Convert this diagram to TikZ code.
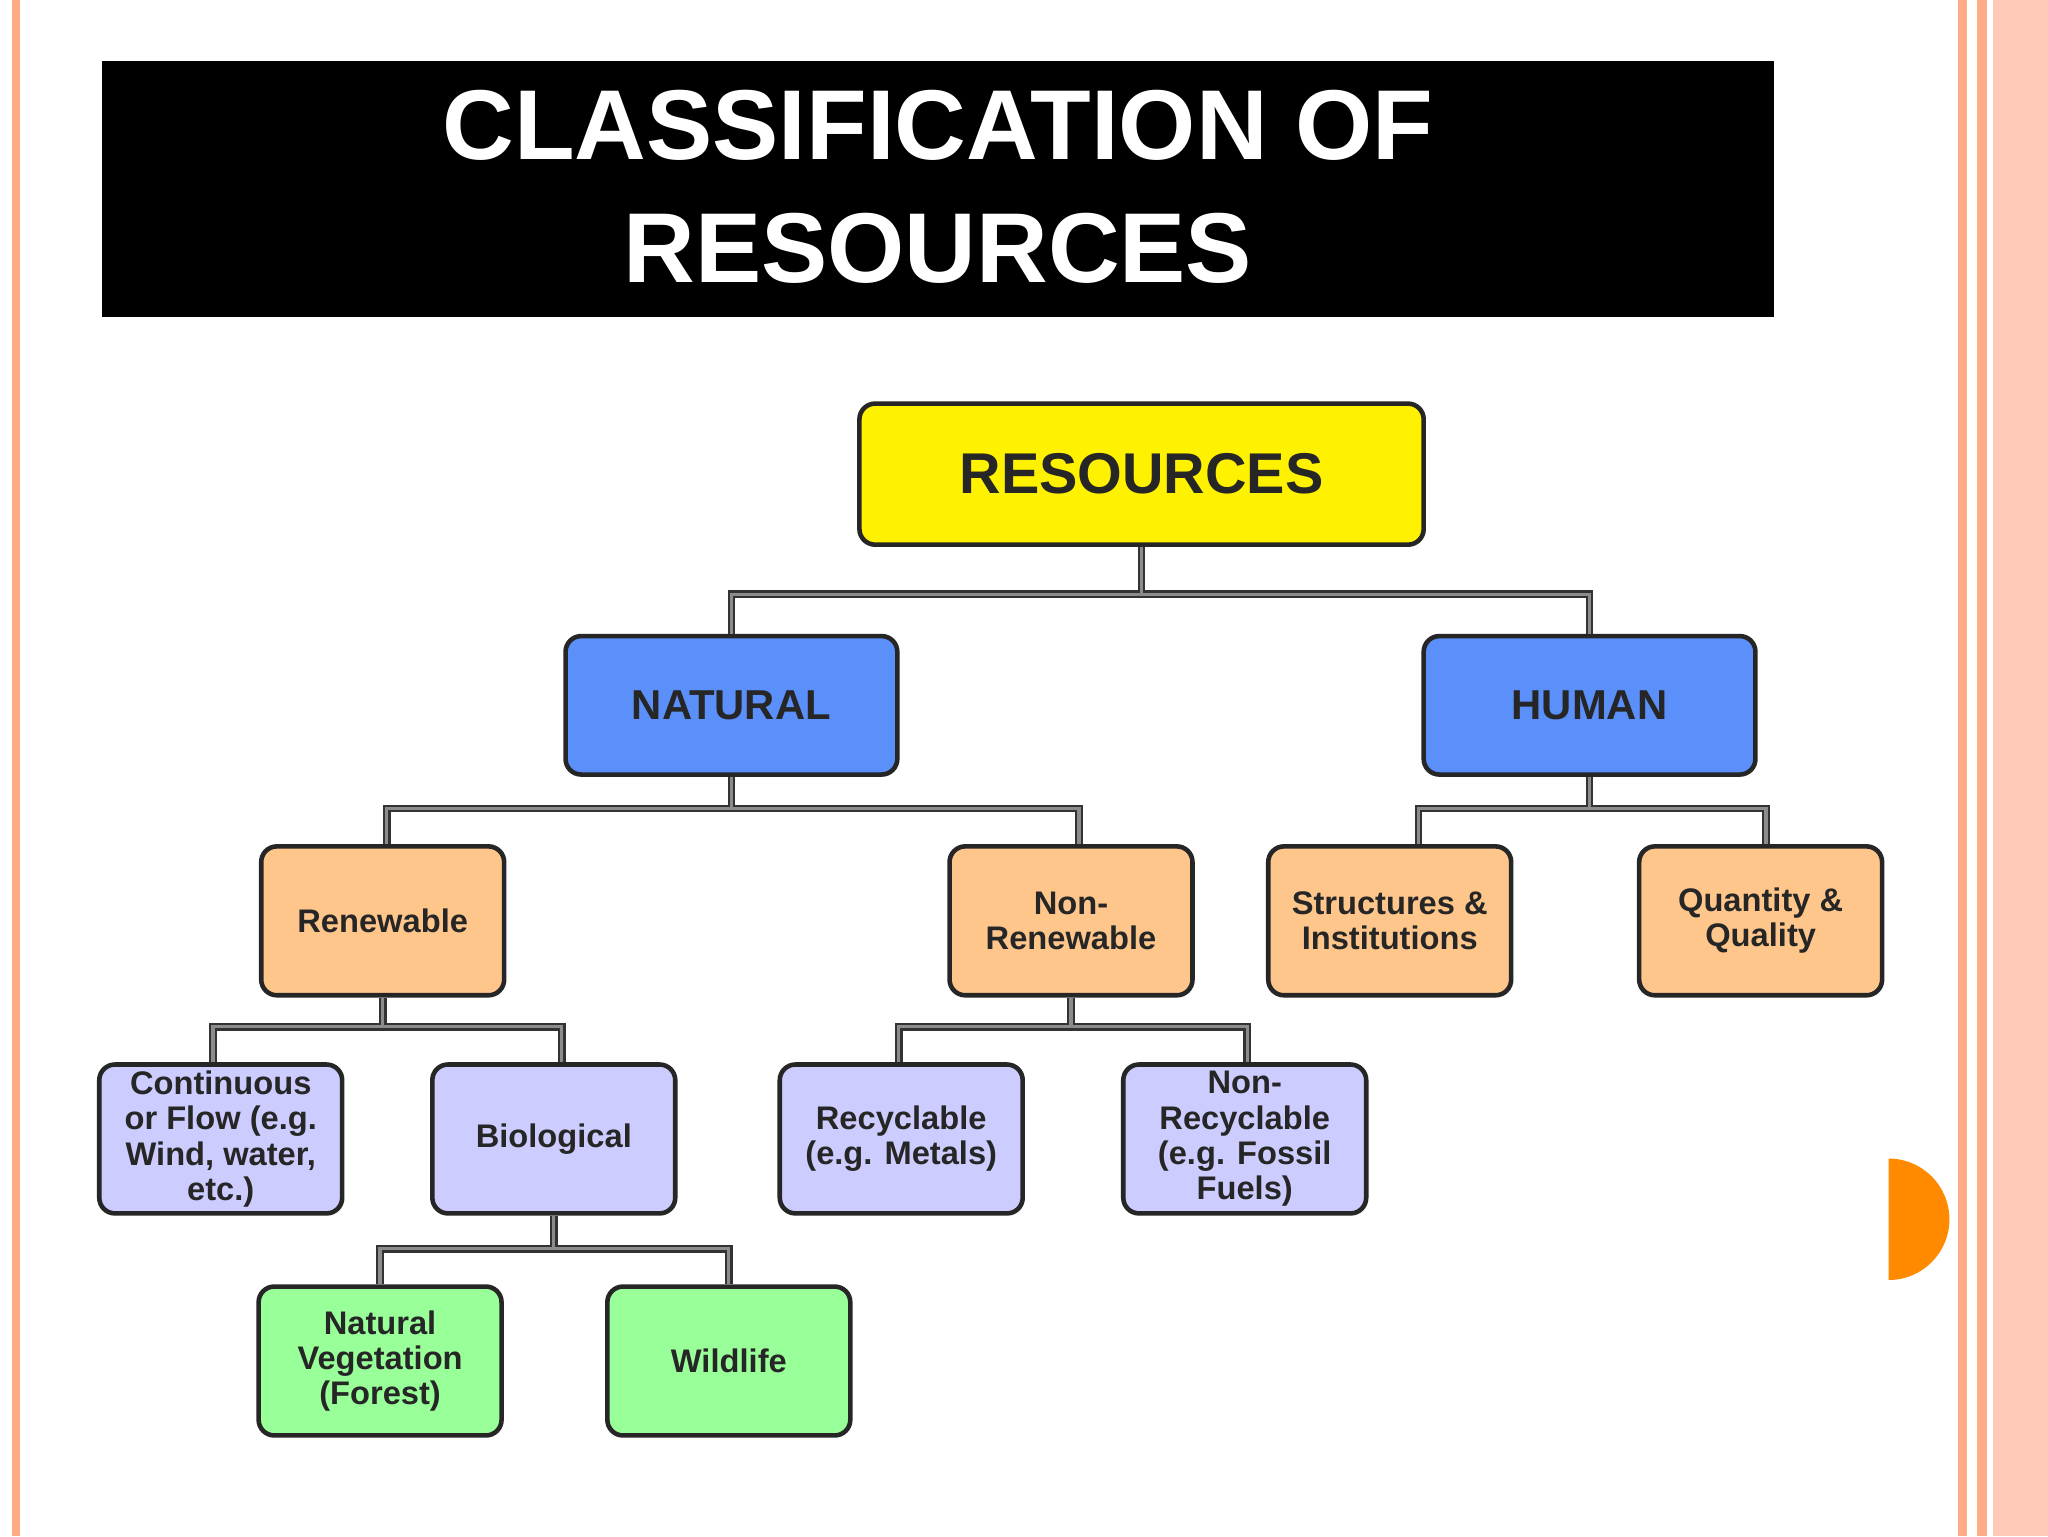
\documentclass[tikz,border=0pt]{standalone}
\usepackage{fontspec}
\setmainfont{Liberation Sans}
\begin{document}
\begin{tikzpicture}[x=1pt,y=-1pt,
 box/.style={draw=black!85,line width=3.5pt,rounded corners=12pt,minimum width=186pt,minimum height=114pt,align=center,font=\fontsize{25}{27}\selectfont\bfseries,text=black!85,inner sep=2pt},
 conn/.style={draw=black!80,line width=6pt},
 connin/.style={draw=black!45,line width=2.5pt}]
\useasboundingbox (0,0) rectangle (1568,1176);
\fill[white] (0,0) rectangle (1568,1176);
\fill[orange!30!pink] (9,0) rectangle (15,1176);
\fill[orange!30!pink] (1499,0) rectangle (1506,1176);
\fill[orange!30!pink] (1514,0) rectangle (1521,1176);
\fill[orange!20!pink!70] (1526,0) rectangle (1568,1176);
\fill[orange!80!yellow!90!red] (1446,980) arc[start angle=90,end angle=-90,radius=46.5] -- cycle;
\node[fill=black,minimum width=1280pt,minimum height=196pt,inner sep=0pt] (title) at (718,145) {};
\node[text=white,font=\fontsize{76}{94}\selectfont\bfseries,align=center] (tt) at (718,143) {CLASSIFICATION OF\\RESOURCES};
% connectors first
\coordinate (b1) at (0,455);
\coordinate (b2) at (0,619);
\coordinate (b3) at (0,786);
\coordinate (b4) at (0,956);
\node[box,fill=yellow,minimum width=432pt,minimum height=108pt,font=\fontsize{44}{46}\selectfont\bfseries] (res) at (874,363) {RESOURCES};
\node[box,fill=blue!50!cyan!60!white!90!blue,fill={rgb,255:red,91;green,143;blue,249},minimum width=254pt,minimum height=106pt,font=\fontsize{32}{34}\selectfont\bfseries] (nat) at (560,540) {NATURAL};
\node[box,fill={rgb,255:red,91;green,143;blue,249},minimum width=254pt,minimum height=106pt,font=\fontsize{32}{34}\selectfont\bfseries] (hum) at (1217,540) {HUMAN};
\colorlet{peach}{orange!45!white}
\node[box,fill=peach] (ren) at (293,705) {Renewable};
\node[box,fill=peach] (non) at (820,705) {Non-\\Renewable};
\node[box,fill=peach] (str) at (1064,705) {Structures \&\\Institutions};
\node[box,fill=peach] (qua) at (1348,705) {Quantity \&\\Quality};
\colorlet{lav}{blue!20!white}
\node[box,fill=lav] (con) at (169,872) {Continuous\\or Flow (e.g.\\Wind, water,\\etc.)};
\node[box,fill=lav] (bio) at (424,872) {Biological};
\node[box,fill=lav] (rec) at (690,872) {Recyclable\\(e.g. Metals)};
\node[box,fill=lav] (nrec) at (953,872) {Non-\\Recyclable\\(e.g. Fossil\\Fuels)};
\colorlet{grn}{green!40!white}
\node[box,fill=grn] (veg) at (291,1042) {Natural\\Vegetation\\(Forest)};
\node[box,fill=grn] (wil) at (558,1042) {Wildlife};
\begin{scope}[on background layer/.style={}]
\foreach \st in {conn,connin}{
 \path[\st] (res.south) -- (res.south |- b1);
 \path[\st] (nat.north) -- (nat.north |- b1) -- (hum.north |- b1) -- (hum.north);
 \path[\st] (nat.south) -- (nat.south |- b2);
 \path[\st] (ren.north -| 296,0) -- (296,619) -- (826,619) -- (non.north -| 826,0);
 \path[\st] (hum.south) -- (hum.south |- b2);
 \path[\st] (str.north -| 1086,0) -- (1086,619) -- (1352,619) -- (qua.north -| 1352,0);
 \path[\st] (ren.south) -- (ren.south |- b3);
 \path[\st] (con.north -| 163,0) -- (163,786) -- (430,786) -- (bio.north -| 430,0);
 \path[\st] (non.south) -- (non.south |- b3);
 \path[\st] (rec.north -| 688,0) -- (688,786) -- (955,786) -- (nrec.north -| 955,0);
 \path[\st] (bio.south) -- (bio.south |- b4);
 \path[\st] (veg.north -| 291,0) -- (291,956) -- (558,956) -- (wil.north);
}
\end{scope}
\end{tikzpicture}
\end{document}
